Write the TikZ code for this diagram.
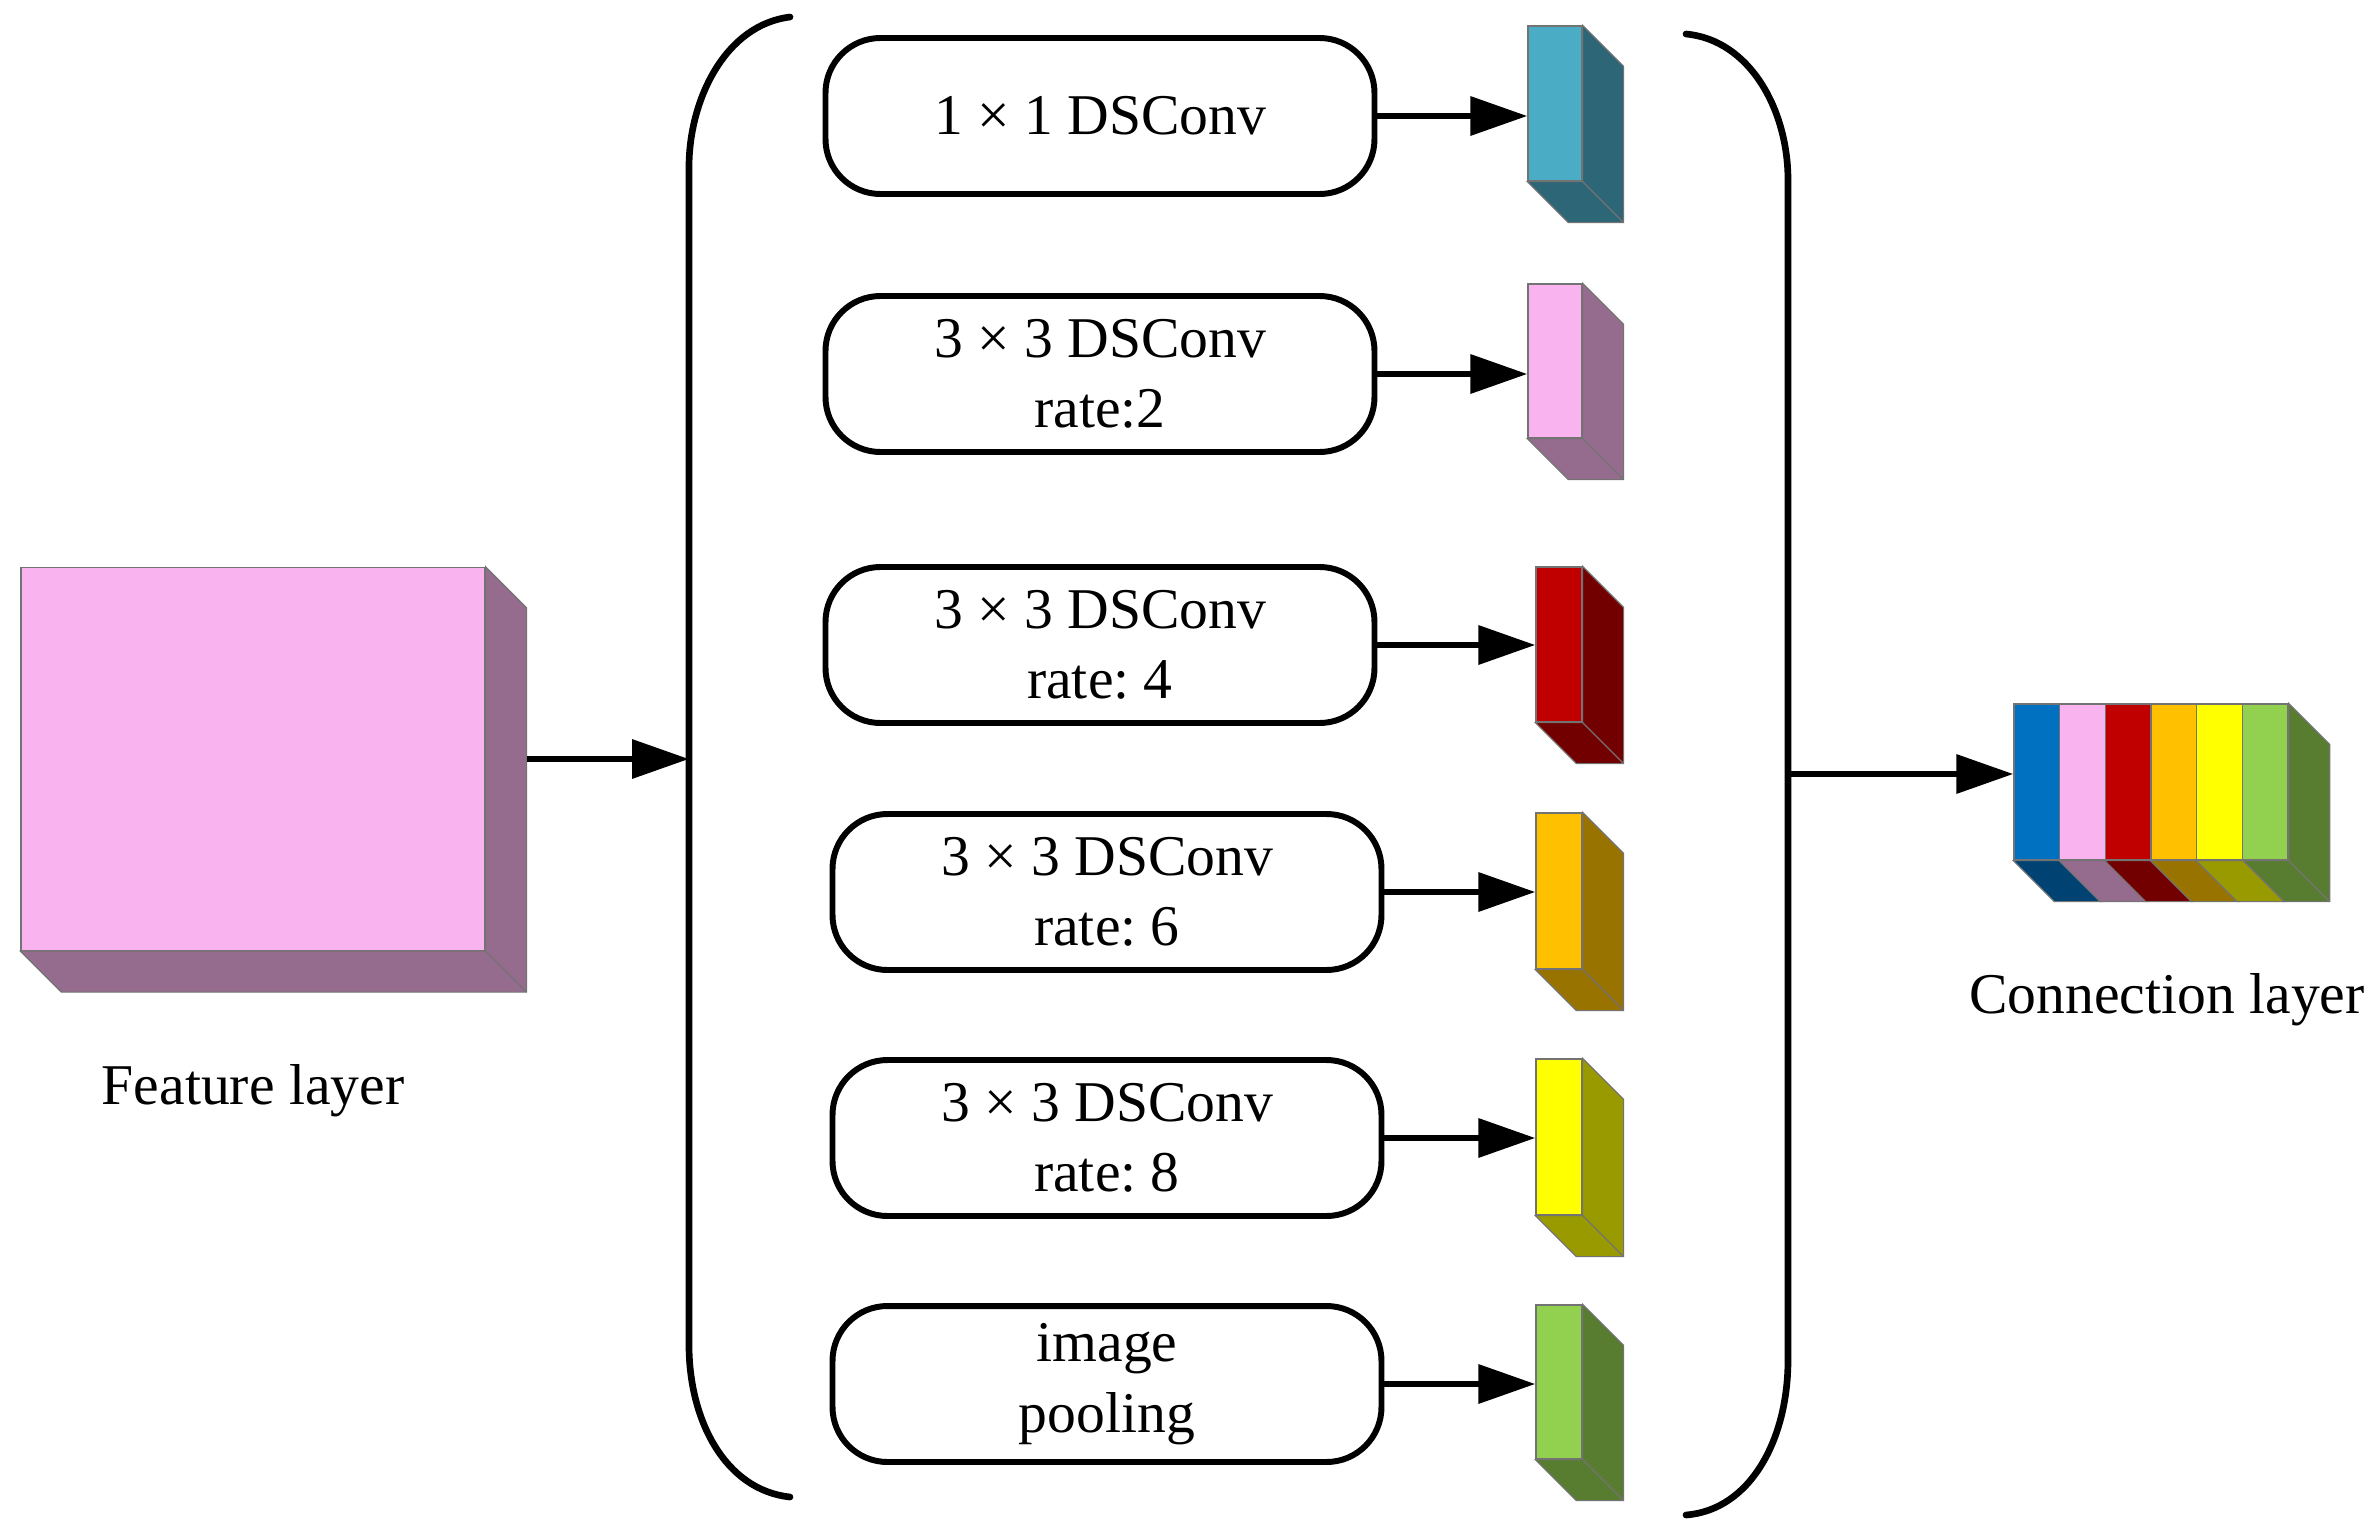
\documentclass[tikz,border=0pt]{standalone}
\usepackage{fontspec}
\setmainfont{Liberation Serif}
\usepackage{tikz}
\usetikzlibrary{arrows.meta,calc,positioning}
\definecolor{cyanfront}{RGB}{75,172,198}
\definecolor{cyanside}{RGB}{45,103,119}
\definecolor{pinkfront}{RGB}{249,179,238}
\definecolor{pinkside}{RGB}{150,108,142}
\definecolor{redfront}{RGB}{192,0,0}
\definecolor{redside}{RGB}{115,0,0}
\definecolor{orangefront}{RGB}{255,192,0}
\definecolor{orangeside}{RGB}{153,115,0}
\definecolor{yellowfront}{RGB}{255,255,0}
\definecolor{yellowside}{RGB}{153,153,0}
\definecolor{greenfront}{RGB}{146,208,80}
\definecolor{greenside}{RGB}{88,125,48}
\definecolor{bluefront}{RGB}{0,112,192}
\definecolor{blueside}{RGB}{0,67,115}
\frenchspacing
\tikzset{
  convbox/.style={draw,line width=1.7pt,rounded corners=5.5mm,minimum width=54.9mm,
    minimum height=15.6mm,inner sep=0pt,align=center,font=\fontsize{16.4}{20}\selectfont},
  face/.style={draw=black!55,line width=0.35pt},
  conn/.style={line width=1.9pt,-{Triangle[length=5.7mm,width=3.8mm]}},
  bracket/.style={line width=1.9pt,line cap=round},
  layerlabel/.style={font=\fontsize{16.4}{20}\selectfont}
}
% front face as a node, depth faces hung on its anchors
\newcommand{\cubeblock}[7]{%
  \node[face,fill=#6,inner sep=0pt,minimum width=#4*0.1mm,minimum height=#5*0.1mm] (#1) at (#2,#3) {};
  \filldraw[face,fill=#7] (#1.north east) -- ++(41,41) -- ([shift={(41,41)}]#1.south east)
    -- ([shift={(41,41)}]#1.south west) -- (#1.south west) -- (#1.south east) -- cycle;
  \draw[face] (#1.south east) -- ++(41,41);
}

\begin{document}
\begin{tikzpicture}[x=0.1mm,y=-0.1mm]
  \useasboundingbox (0,0) rectangle (2375,1531);

  % feature layer
  \cubeblock{feat}{253}{759}{464}{383}{pinkfront}{pinkside}
  \node[layerlabel] (featlbl) at (253,1091) {Feature layer};

  % brackets
  \draw[bracket] (790,17) .. controls (725,25) and (689,100) .. (689,167) -- (689,1345)
    .. controls (689,1420) and (725,1490) .. (790,1497);
  \draw[bracket] (1686,34) .. controls (1750,40) and (1788,110) .. (1788,180) -- (1788,1360)
    .. controls (1788,1440) and (1750,1510) .. (1686,1515);
  \coordinate (lbrk) at (689,759);
  \coordinate (rbrk) at (1788,774);

  \coordinate (featout) at ([xshift=4.1mm]feat.east);
  \draw[conn] (featout) -- (featout -| lbrk);

  % branches
  \node[convbox] (b1) at (1100,116) {1 × 1 DSConv};
  \node[convbox] (b2) at (1100,374) {3 × 3 DSConv\\rate:2};
  \node[convbox] (b3) at (1100,645) {3 × 3 DSConv\\rate: 4};
  \node[convbox] (b4) at (1107,892) {3 × 3 DSConv\\rate: 6};
  \node[convbox] (b5) at (1107,1138) {3 × 3 DSConv\\rate: 8};
  \node[convbox] (b6) at (1107,1384) {image\\pooling};

  \cubeblock{k1}{1555}{103.5}{54}{155}{cyanfront}{cyanside}
  \cubeblock{k2}{1555}{361}{54}{154}{pinkfront}{pinkside}
  \cubeblock{k3}{1559}{644.5}{46}{155}{redfront}{redside}
  \cubeblock{k4}{1559}{891}{46}{156}{orangefront}{orangeside}
  \cubeblock{k5}{1559}{1137}{46}{156}{yellowfront}{yellowside}
  \cubeblock{k6}{1559}{1382}{46}{154}{greenfront}{greenside}

  \foreach \i in {1,...,6} {
    \draw[conn] (b\i.east) -- (b\i.east -| k\i.west);
  }

  % connection layer
  \cubeblock{c6}{2265.2}{782}{45.7}{156}{greenfront}{greenside}
  \foreach \i/\fc/\sc [count=\j from 0] in {1/bluefront/blueside,2/pinkfront/pinkside,3/redfront/redside,4/orangefront/orangeside,5/yellowfront/yellowside} {
    \node[face,fill=\fc,inner sep=0pt,minimum width=4.57mm,minimum height=15.6mm] (c\i) at (2036.8+45.7*\j,782) {};
    \filldraw[face,fill=\sc] (c\i.south west) -- (c\i.south east) -- ++(41,41) -- ([shift={(41,41)}]c\i.south west) -- cycle;
  }
  \draw[conn] (rbrk) -- (rbrk -| c1.west);
  \node[layerlabel] (connlbl) at (2167,1000) {Connection layer};
\end{tikzpicture}
\end{document}
